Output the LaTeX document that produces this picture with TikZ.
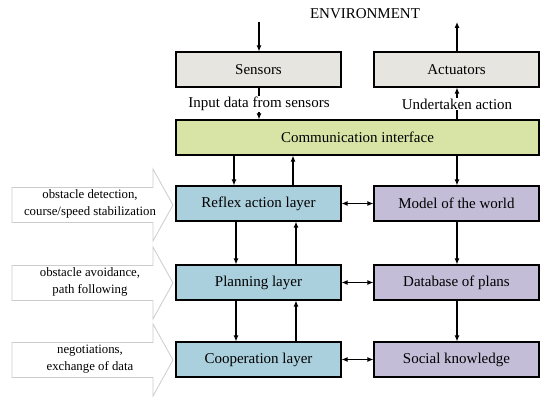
\documentclass[tikz,border=0pt]{standalone}
\usepackage{fontspec}
\setmainfont{Liberation Serif}
\usetikzlibrary{arrows.meta}
\definecolor{sgray}{HTML}{E7E5E0}
\definecolor{cgreen}{HTML}{D7E4A6}
\definecolor{lblue}{HTML}{AACFDD}
\definecolor{lpurp}{HTML}{C3BDD8}
\tikzset{
  box/.style={draw=black, line width=1.1pt, minimum width=165pt, minimum height=35pt, inner sep=0pt, font=\fontsize{15}{17}\selectfont},
  conn/.style={line width=1.1pt, -{Latex[length=6pt,width=5pt]}},
  biconn/.style={line width=1.1pt, {Latex[length=6pt,width=5pt]}-{Latex[length=6pt,width=5pt]}},
  fat/.style={draw=black!20, fill=white, line width=0.8pt},
  fattext/.style={align=center, font=\fontsize{12.8}{17}\selectfont},
  lbl/.style={fill=white, inner sep=1pt, font=\fontsize{15}{17}\selectfont}
}
\begin{document}
\begin{tikzpicture}[x=1pt,y=-1pt]
\useasboundingbox (0,0) rectangle (550,403);
% boxes
\node[box, fill=sgray] (sens) at (258.5,69.5) {Sensors};
\node[box, fill=sgray] (act) at (456.5,69.5) {Actuators};
\node[box, fill=cgreen, minimum width=363pt] (comm) at (357.5,137.5) {Communication interface};
\node[box, fill=lblue] (reflex) at (258.5,203.5) {Reflex action layer};
\node[box, fill=lpurp] (model) at (456.5,203.5) {Model of the world};
\node[box, fill=lblue] (plan) at (258.5,282.5) {Planning layer};
\node[box, fill=lpurp] (db) at (456.5,282.5) {Database of plans};
\node[box, fill=lblue] (coop) at (258.5,359.5) {Cooperation layer};
\node[box, fill=lpurp] (social) at (456.5,359.5) {Social knowledge};
% environment
\node[font=\fontsize{15}{17}\selectfont] (env) at (365,14) {ENVIRONMENT};
\coordinate (ein) at (259,22);
\coordinate (eout) at (457,22);
\draw[conn] (ein) -- (sens.north -| ein);
\draw[conn] (act.north -| eout) -- (eout);
% sensors/actuators to comm
\draw[conn] (sens.south -| ein) -- (comm.north -| ein);
\draw[conn] (comm.north -| eout) -- (act.south -| eout);
\node[lbl] (inp) at (259,104) {Input data from sensors};
\node[lbl] (und) at (457,104) {Undertaken action};
% layers
\coordinate (d1) at (234,0);
\coordinate (u1) at (293,0);
\coordinate (r1) at (457,0);
\draw[conn] (comm.south -| d1) -- (reflex.north -| d1);
\draw[conn] (reflex.north -| u1) -- (comm.south -| u1);
\draw[conn] (comm.south -| r1) -- (model.north -| r1);
\coordinate (d2) at (236,0);
\coordinate (u2) at (296,0);
\draw[conn] (reflex.south -| d2) -- (plan.north -| d2);
\draw[conn] (plan.north -| u2) -- (reflex.south -| u2);
\draw[conn] (model.south -| r1) -- (db.north -| r1);
\draw[conn] (plan.south -| d2) -- (coop.north -| d2);
\draw[conn] (coop.north -| u2) -- (plan.south -| u2);
\draw[conn] (db.south -| r1) -- (social.north -| r1);
\draw[biconn] (reflex.east) -- (model.west);
\draw[biconn] (plan.east) -- (db.west);
\draw[biconn] (coop.east) -- (social.west);
% fat arrows
\foreach \c in {205, 283, 360} {
  \draw[fat] (12,\c-17.5) -- (153,\c-17.5) -- (153,\c-36) -- (173,\c) -- (153,\c+36) -- (153,\c+17.5) -- (12,\c+17.5) -- cycle;
}
\node[fattext] (t1) at (90,204) {obstacle detection,\\course/speed stabilization};
\node[fattext] (t2) at (90,282) {obstacle avoidance,\\path following};
\node[fattext] (t3) at (90,359) {negotiations,\\exchange of data};
\end{tikzpicture}
\end{document}
